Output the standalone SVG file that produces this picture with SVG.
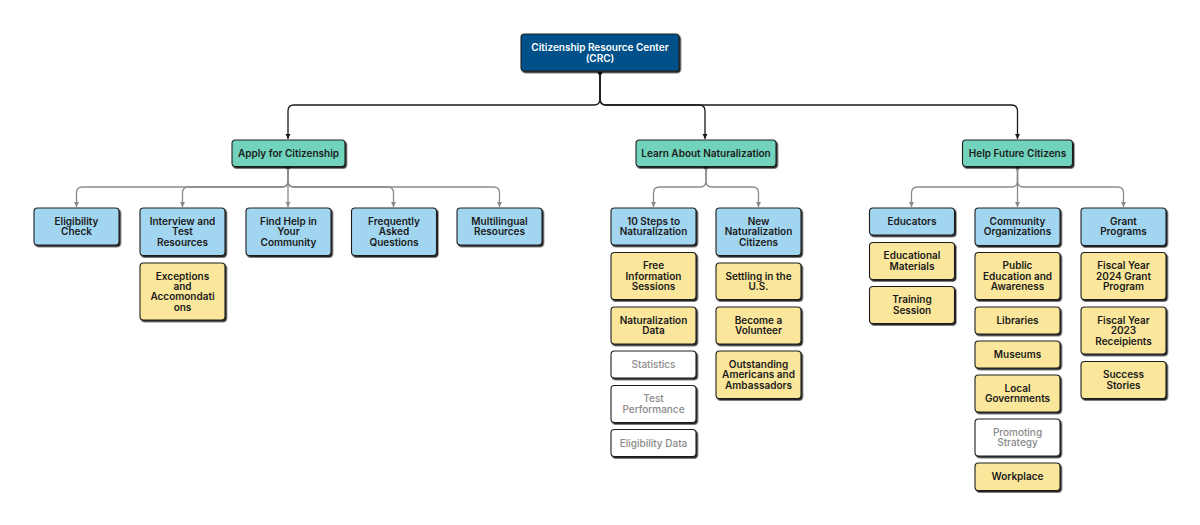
<svg xmlns="http://www.w3.org/2000/svg" width="1200" height="525" viewBox="0 0 1200 525">
<style>
text{font-family:Inter,"Noto Sans","Liberation Sans",sans-serif;font-size:10px;font-weight:600;text-anchor:middle;fill:#1a1a1a}
.bx{stroke:#1e1e1e;stroke-width:1.1;filter:url(#sh)}
.root{fill:#03518a}
.root+text,.rt{fill:#ffffff}
.l1{fill:#72d3bc}
.l2{fill:#a2d6f0}
.y{fill:#fbe79b}
.w{fill:#ffffff}
.gt{fill:#8a8a8a;font-weight:500}
.c1{fill:none;stroke:#1a1a1a;stroke-width:1.3;marker-end:url(#a1);marker-start:url(#s1)}
.c2{fill:none;stroke:#8a8a8a;stroke-width:1.3;marker-end:url(#a2);marker-start:url(#s2)}
</style>
<defs>
<filter id="sh" x="-10%" y="-10%" width="130%" height="140%">
<feDropShadow dx="1.4" dy="1.6" stdDeviation="0.3" flood-color="#000" flood-opacity="0.85"/>
</filter>
<marker id="a1" markerUnits="userSpaceOnUse" markerWidth="6" markerHeight="6" refX="5" refY="3" orient="auto"><path d="M0,0.5 L5,3 L0,5.5z" fill="#1a1a1a"/></marker>
<marker id="s1" markerUnits="userSpaceOnUse" markerWidth="6" markerHeight="6" refX="0" refY="3" orient="auto"><path d="M0,0.5 L4.5,3 L0,5.5z" fill="#1a1a1a"/></marker>
<marker id="a2" markerUnits="userSpaceOnUse" markerWidth="6" markerHeight="6" refX="5" refY="3" orient="auto"><path d="M0,0.5 L5,3 L0,5.5z" fill="#8a8a8a"/></marker>
<marker id="s2" markerUnits="userSpaceOnUse" markerWidth="6" markerHeight="6" refX="0" refY="3" orient="auto"><path d="M0,0.5 L4.5,3 L0,5.5z" fill="#8a8a8a"/></marker>
</defs>
<rect width="1200" height="525" fill="#ffffff"/>
<g id="connectors">
<path class="c1" d="M600,72 V99 Q600,105 594,105 H294 Q288,105 288,111 V139"/>
<path class="c1" d="M600,72 V99 Q600,105 606,105 H699 Q705,105 705,111 V139"/>
<path class="c1" d="M600,72 V99 Q600,105 606,105 H1011 Q1017.5,105 1017.5,111 V139"/>
<path class="c2" d="M288,167 V181 Q288,187 282,187 H82.5 Q76.5,187 76.5,193 V207"/>
<path class="c2" d="M288,167 V181 Q288,187 282,187 H188.5 Q182.5,187 182.5,193 V207"/>
<path class="c2" d="M288,167 V207"/>
<path class="c2" d="M288,167 V181 Q288,187 294,187 H387.5 Q393.5,187 393.5,193 V207"/>
<path class="c2" d="M288,167 V181 Q288,187 294,187 H493.5 Q499.5,187 499.5,193 V207"/>
<path class="c2" d="M706,167 V181 Q706,187 700,187 H659.5 Q653.5,187 653.5,193 V207"/>
<path class="c2" d="M706,167 V181 Q706,187 712,187 H752.5 Q758.5,187 758.5,193 V207"/>
<path class="c2" d="M1017.5,167 V181 Q1017.5,187 1011.5,187 H917.5 Q911.5,187 911.5,193 V207"/>
<path class="c2" d="M1017.5,167 V207"/>
<path class="c2" d="M1017.5,167 V181 Q1017.5,187 1023.5,187 H1117.5 Q1123.5,187 1123.5,193 V207"/>
</g>
<g id="root"><rect class="bx root" x="521" y="34" width="158" height="37" rx="3.5"/><text class="rt" x="600" y="51.4">Citizenship Resource Center<tspan x="600" dy="10.3">(CRC)</tspan></text></g>
<g id="apply"><rect class="bx l1" x="232" y="140" width="113" height="26.5" rx="3.5"/><text x="288.5" y="156.8">Apply for Citizenship</text></g>
<g id="learn"><rect class="bx l1" x="636" y="140" width="140" height="26.5" rx="3.5"/><text x="706" y="156.8">Learn About Naturalization</text></g>
<g id="help"><rect class="bx l1" x="962.5" y="140" width="110" height="26.5" rx="3.5"/><text x="1017.5" y="156.8">Help Future Citizens</text></g>

<g id="eligibility-check"><rect class="bx l2" x="34" y="208" width="85" height="37" rx="3.5"/><text x="76.5" y="225.1">Eligibility<tspan x="76.5" dy="10.3">Check</tspan></text></g>
<g id="interview"><rect class="bx l2" x="140" y="208" width="85" height="47.5" rx="3.5"/><text x="182.5" y="225.1">Interview and<tspan x="182.5" dy="10.3">Test</tspan><tspan x="182.5" dy="10.3">Resources</tspan></text></g>
<g id="exceptions"><rect class="bx y" x="140" y="263" width="85" height="57" rx="3.5"/><text x="182.5" y="279.7">Exceptions<tspan x="182.5" dy="10.3">and</tspan><tspan x="182.5" dy="10.3">Accomondati</tspan><tspan x="182.5" dy="10.3">ons</tspan></text></g>
<g id="find-help"><rect class="bx l2" x="246" y="208" width="85" height="47.5" rx="3.5"/><text x="288.5" y="225.1">Find Help in<tspan x="288.5" dy="10.3">Your</tspan><tspan x="288.5" dy="10.3">Community</tspan></text></g>
<g id="faq"><rect class="bx l2" x="351.5" y="208" width="85" height="47.5" rx="3.5"/><text x="394" y="225.1">Frequently<tspan x="394" dy="10.3">Asked</tspan><tspan x="394" dy="10.3">Questions</tspan></text></g>
<g id="multilingual"><rect class="bx l2" x="457" y="208" width="85" height="37" rx="3.5"/><text x="499.5" y="225.1">Multilingual<tspan x="499.5" dy="10.3">Resources</tspan></text></g>

<g id="ten-steps"><rect class="bx l2" x="611" y="208" width="85" height="37" rx="3.5"/><text x="653.5" y="225.1">10 Steps to<tspan x="653.5" dy="10.3">Naturalization</tspan></text></g>
<g id="free-info"><rect class="bx y" x="611" y="252.5" width="85" height="47" rx="3.5"/><text x="653.5" y="269.4">Free<tspan x="653.5" dy="10.3">Information</tspan><tspan x="653.5" dy="10.3">Sessions</tspan></text></g>
<g id="nat-data"><rect class="bx y" x="611" y="307" width="85" height="37" rx="3.5"/><text x="653.5" y="323.9">Naturalization<tspan x="653.5" dy="10.3">Data</tspan></text></g>
<g id="statistics"><rect class="bx w" x="611" y="351" width="85" height="27" rx="3.5"/><text class="gt" x="653.5" y="368">Statistics</text></g>
<g id="test-perf"><rect class="bx w" x="611" y="385.5" width="85" height="37" rx="3.5"/><text class="gt" x="653.5" y="402.4">Test<tspan x="653.5" dy="10.3">Performance</tspan></text></g>
<g id="elig-data"><rect class="bx w" x="611" y="429.5" width="85" height="27" rx="3.5"/><text class="gt" x="653.5" y="446.5">Eligibility Data</text></g>
<g id="new-citizens"><rect class="bx l2" x="716" y="208" width="85" height="47.5" rx="3.5"/><text x="758.5" y="225.1">New<tspan x="758.5" dy="10.3">Naturalization</tspan><tspan x="758.5" dy="10.3">Citizens</tspan></text></g>
<g id="settling"><rect class="bx y" x="716" y="263" width="85" height="36.5" rx="3.5"/><text x="758.5" y="279.7">Settling in the<tspan x="758.5" dy="10.3">U.S.</tspan></text></g>
<g id="volunteer"><rect class="bx y" x="716" y="307" width="85" height="37" rx="3.5"/><text x="758.5" y="323.9">Become a<tspan x="758.5" dy="10.3">Volunteer</tspan></text></g>
<g id="outstanding"><rect class="bx y" x="716" y="351" width="85" height="47.5" rx="3.5"/><text x="758.5" y="368">Outstanding<tspan x="758.5" dy="10.3">Americans and</tspan><tspan x="758.5" dy="10.3">Ambassadors</tspan></text></g>

<g id="educators"><rect class="bx l2" x="869.5" y="208" width="85" height="27" rx="3.5"/><text x="912" y="225.1">Educators</text></g>
<g id="edu-materials"><rect class="bx y" x="869.5" y="242.5" width="85" height="37" rx="3.5"/><text x="912" y="259.4">Educational<tspan x="912" dy="10.3">Materials</tspan></text></g>
<g id="training"><rect class="bx y" x="869.5" y="286.5" width="85" height="37" rx="3.5"/><text x="912" y="303.4">Training<tspan x="912" dy="10.3">Session</tspan></text></g>
<g id="community-orgs"><rect class="bx l2" x="975" y="208" width="85" height="37.5" rx="3.5"/><text x="1017.5" y="225.1">Community<tspan x="1017.5" dy="10.3">Organizations</tspan></text></g>
<g id="public-ed"><rect class="bx y" x="975" y="252.5" width="85" height="47" rx="3.5"/><text x="1017.5" y="269.4">Public<tspan x="1017.5" dy="10.3">Education and</tspan><tspan x="1017.5" dy="10.3">Awareness</tspan></text></g>
<g id="libraries"><rect class="bx y" x="975" y="307" width="85" height="27" rx="3.5"/><text x="1017.5" y="324">Libraries</text></g>
<g id="museums"><rect class="bx y" x="975" y="341" width="85" height="27" rx="3.5"/><text x="1017.5" y="358">Museums</text></g>
<g id="local-gov"><rect class="bx y" x="975" y="375" width="85" height="37" rx="3.5"/><text x="1017.5" y="391.9">Local<tspan x="1017.5" dy="10.3">Governments</tspan></text></g>
<g id="promoting"><rect class="bx w" x="975" y="419" width="85" height="37" rx="3.5"/><text class="gt" x="1017.5" y="435.9">Promoting<tspan x="1017.5" dy="10.3">Strategy</tspan></text></g>
<g id="workplace"><rect class="bx y" x="975" y="463" width="85" height="27.5" rx="3.5"/><text x="1017.5" y="480.2">Workplace</text></g>
<g id="grant-programs"><rect class="bx l2" x="1081" y="208" width="85" height="37.5" rx="3.5"/><text x="1123.5" y="225.1">Grant<tspan x="1123.5" dy="10.3">Programs</tspan></text></g>
<g id="fy2024"><rect class="bx y" x="1081" y="252.5" width="85" height="47" rx="3.5"/><text x="1123.5" y="269.4">Fiscal Year<tspan x="1123.5" dy="10.3">2024 Grant</tspan><tspan x="1123.5" dy="10.3">Program</tspan></text></g>
<g id="fy2023"><rect class="bx y" x="1081" y="307" width="85" height="47" rx="3.5"/><text x="1123.5" y="323.9">Fiscal Year<tspan x="1123.5" dy="10.3">2023</tspan><tspan x="1123.5" dy="10.3">Receipients</tspan></text></g>
<g id="success"><rect class="bx y" x="1081" y="361.5" width="85" height="37" rx="3.5"/><text x="1123.5" y="378.4">Success<tspan x="1123.5" dy="10.3">Stories</tspan></text></g>
</svg>
